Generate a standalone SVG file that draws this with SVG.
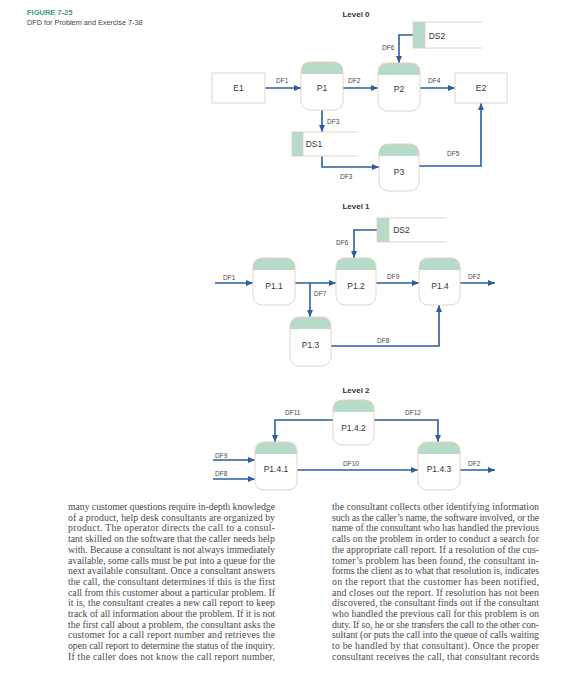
<svg xmlns="http://www.w3.org/2000/svg" width="576" height="700" viewBox="0 0 576 700">
<style>
.lbl{font-family:"Liberation Sans",Arial,sans-serif;font-size:6.5px;fill:#444}
.nm{font-family:"Liberation Sans",Arial,sans-serif;font-size:8.5px;fill:#333;text-anchor:middle}
.lvl{font-family:"Liberation Sans",Arial,sans-serif;font-size:8px;font-weight:bold;fill:#333;text-anchor:middle}
.box{fill:#fff;stroke:#e6d3c0;stroke-width:1}
.hdr{fill:#b7dbc8}
.ds{fill:none;stroke:#e6d3c0;stroke-width:1}
.bar{fill:#b7dbc8;stroke:#e0cdb8;stroke-width:0.8}
.flow{fill:none;stroke:#2b5e9e;stroke-width:1.6}
.body{font-family:"Liberation Serif","Times New Roman",serif;font-size:9.8px;fill:#4a4a4a}
</style>
<defs>
<marker id="ah" markerUnits="userSpaceOnUse" markerWidth="7" markerHeight="6" refX="7" refY="3" orient="auto">
<path d="M0,0 L7,3 L0,6 Z" fill="#2b5e9e"/>
</marker>
</defs>
<rect width="576" height="700" fill="#fff"/>
<g id="header">
<text x="27" y="14.5" font-family="Liberation Sans,Arial,sans-serif" font-size="7.5" font-weight="bold" fill="#3f9b7c">FIGURE 7-25</text>
<text x="27" y="24.5" font-family="Liberation Sans,Arial,sans-serif" font-size="7.3" fill="#444">DFD for Problem and Exercise 7-38</text>
</g>
<text class="lvl" x="356" y="17">Level 0</text>
<text class="lvl" x="356" y="209">Level 1</text>
<text class="lvl" x="356" y="393">Level 2</text>

<g id="connectors">
<path class="flow" marker-end="url(#ah)" d="M413,35 H399 V63"/>
<path class="flow" marker-end="url(#ah)" d="M265,88 H301"/>
<path class="flow" marker-end="url(#ah)" d="M343,88 H378"/>
<path class="flow" marker-end="url(#ah)" d="M420,88 H455"/>
<path class="flow" marker-end="url(#ah)" d="M322,110 V132"/>
<path class="flow" marker-end="url(#ah)" d="M322,156 V167 H379"/>
<path class="flow" marker-end="url(#ah)" d="M419,166 H481 V103"/>

<path class="flow" marker-end="url(#ah)" d="M377,230 H354 V258"/>
<path class="flow" marker-end="url(#ah)" d="M215,283 H253"/>
<path class="flow" marker-end="url(#ah)" d="M295,283 H336"/>
<path class="flow" marker-end="url(#ah)" d="M310,283 V317"/>
<path class="flow" marker-end="url(#ah)" d="M376,283 H419"/>
<path class="flow" marker-end="url(#ah)" d="M460,283 H495"/>
<path class="flow" marker-end="url(#ah)" d="M331,346 H439 V305"/>

<path class="flow" marker-end="url(#ah)" d="M333,420 H275 V442"/>
<path class="flow" marker-end="url(#ah)" d="M374,420 H438 V442"/>
<path class="flow" marker-end="url(#ah)" d="M213,460 H255"/>
<path class="flow" marker-end="url(#ah)" d="M213,479 H255"/>
<path class="flow" marker-end="url(#ah)" d="M297,470 H418"/>
<path class="flow" marker-end="url(#ah)" d="M460,470 H495"/>

<text class="lbl" x="382" y="50">DF6</text>
<text class="lbl" x="276" y="83">DF1</text>
<text class="lbl" x="348" y="83">DF2</text>
<text class="lbl" x="428" y="83">DF4</text>
<text class="lbl" x="327" y="124">DF3</text>
<text class="lbl" x="340" y="179">DF3</text>
<text class="lbl" x="447" y="156">DF5</text>

<text class="lbl" x="336" y="245">DF6</text>
<text class="lbl" x="223" y="280">DF1</text>
<text class="lbl" x="314" y="296">DF7</text>
<text class="lbl" x="387" y="279">DF9</text>
<text class="lbl" x="468" y="279">DF2</text>
<text class="lbl" x="377" y="343">DF8</text>

<text class="lbl" x="285" y="415">DF11</text>
<text class="lbl" x="405" y="415">DF12</text>
<text class="lbl" x="215" y="458">DF9</text>
<text class="lbl" x="215" y="476">DF8</text>
<text class="lbl" x="343" y="466">DF10</text>
<text class="lbl" x="468" y="466">DF2</text>
</g>

<g id="E1"><rect class="box" x="212" y="73" width="53" height="30"/><text class="nm" x="238.5" y="91">E1</text></g>
<g id="E2"><rect class="box" x="455" y="73" width="52" height="30"/><text class="nm" x="481" y="91">E2</text></g>

<g id="P1">
<path class="hdr" d="M301,74 V71 Q301,62 310,62 H334 Q343,62 343,71 V74 Z"/>
<rect class="box" style="fill:none" x="301" y="62" width="42" height="48" rx="9"/>
<text class="nm" x="322" y="91">P1</text>
</g>
<g id="P2">
<path class="hdr" d="M378,75 V72 Q378,63 387,63 H411 Q420,63 420,72 V75 Z"/>
<rect class="box" style="fill:none" x="378" y="63" width="42" height="48" rx="9"/>
<text class="nm" x="399" y="92">P2</text>
</g>
<g id="P3">
<path class="hdr" d="M379,156 V153 Q379,144 388,144 H410 Q419,144 419,153 V156 Z"/>
<rect class="box" style="fill:none" x="379" y="144" width="40" height="47" rx="9"/>
<text class="nm" x="399" y="175">P3</text>
</g>
<g id="DS2-L0">
<path class="ds" d="M425,22 H482 M425,48 H482"/>
<rect class="bar" x="413" y="22" width="12" height="26"/>
<text class="nm" x="437" y="38.5">DS2</text>
</g>
<g id="DS1">
<path class="ds" d="M303,132 H359 M303,156 H359"/>
<rect class="bar" x="292" y="132" width="11" height="24"/>
<text class="nm" x="314" y="147">DS1</text>
</g>

<g id="DS2-L1">
<path class="ds" d="M389,218 H447 M389,242 H447"/>
<rect class="bar" x="377" y="218" width="12" height="24"/>
<text class="nm" x="401.5" y="233">DS2</text>
</g>
<g id="P1.1">
<path class="hdr" d="M253,270 V267 Q253,258 262,258 H286 Q295,258 295,267 V270 Z"/>
<rect class="box" style="fill:none" x="253" y="258" width="42" height="47" rx="9"/>
<text class="nm" x="274" y="289">P1.1</text>
</g>
<g id="P1.2">
<path class="hdr" d="M336,270 V267 Q336,258 345,258 H367 Q376,258 376,267 V270 Z"/>
<rect class="box" style="fill:none" x="336" y="258" width="40" height="47" rx="9"/>
<text class="nm" x="356" y="289">P1.2</text>
</g>
<g id="P1.4">
<path class="hdr" d="M419,270 V267 Q419,258 428,258 H451 Q460,258 460,267 V270 Z"/>
<rect class="box" style="fill:none" x="419" y="258" width="41" height="47" rx="9"/>
<text class="nm" x="440" y="289">P1.4</text>
</g>
<g id="P1.3">
<path class="hdr" d="M290,329 V326 Q290,317 299,317 H322 Q331,317 331,326 V329 Z"/>
<rect class="box" style="fill:none" x="290" y="317" width="41" height="49" rx="9"/>
<text class="nm" x="310.5" y="348">P1.3</text>
</g>

<g id="P1.4.2">
<path class="hdr" d="M333,412 V409 Q333,400 342,400 H365 Q374,400 374,409 V412 Z"/>
<rect class="box" style="fill:none" x="333" y="400" width="41" height="45" rx="9"/>
<text class="nm" x="353.5" y="431">P1.4.2</text>
</g>
<g id="P1.4.1">
<path class="hdr" d="M255,454 V451 Q255,442 264,442 H288 Q297,442 297,451 V454 Z"/>
<rect class="box" style="fill:none" x="255" y="442" width="42" height="48" rx="9"/>
<text class="nm" x="276" y="472">P1.4.1</text>
</g>
<g id="P1.4.3">
<path class="hdr" d="M418,454 V451 Q418,442 427,442 H451 Q460,442 460,451 V454 Z"/>
<rect class="box" style="fill:none" x="418" y="442" width="42" height="48" rx="9"/>
<text class="nm" x="439" y="472">P1.4.3</text>
</g>

<g id="text-left" class="body">
<text x="68" y="510" textLength="207" lengthAdjust="spacing">many customer questions require in-depth knowledge</text>
<text x="68" y="520.7" textLength="207" lengthAdjust="spacing">of a product, help desk consultants are organized by</text>
<text x="68" y="531.4" textLength="207" lengthAdjust="spacing">product. The operator directs the call to a consul-</text>
<text x="68" y="542.1" textLength="207" lengthAdjust="spacing">tant skilled on the software that the caller needs help</text>
<text x="68" y="552.8" textLength="207" lengthAdjust="spacing">with. Because a consultant is not always immediately</text>
<text x="68" y="563.5" textLength="207" lengthAdjust="spacing">available, some calls must be put into a queue for the</text>
<text x="68" y="574.2" textLength="207" lengthAdjust="spacing">next available consultant. Once a consultant answers</text>
<text x="68" y="584.9" textLength="207" lengthAdjust="spacing">the call, the consultant determines if this is the first</text>
<text x="68" y="595.6" textLength="207" lengthAdjust="spacing">call from this customer about a particular problem. If</text>
<text x="68" y="606.3" textLength="207" lengthAdjust="spacing">it is, the consultant creates a new call report to keep</text>
<text x="68" y="617" textLength="207" lengthAdjust="spacing">track of all information about the problem. If it is not</text>
<text x="68" y="627.7" textLength="207" lengthAdjust="spacing">the first call about a problem, the consultant asks the</text>
<text x="68" y="638.4" textLength="207" lengthAdjust="spacing">customer for a call report number and retrieves the</text>
<text x="68" y="649.1" textLength="207" lengthAdjust="spacing">open call report to determine the status of the inquiry.</text>
<text x="68" y="659.8" textLength="207" lengthAdjust="spacing">If the caller does not know the call report number,</text>
</g>
<g id="text-right" class="body">
<text x="332" y="510" textLength="207" lengthAdjust="spacing">the consultant collects other identifying information</text>
<text x="332" y="520.7" textLength="207" lengthAdjust="spacing">such as the caller’s name, the software involved, or the</text>
<text x="332" y="531.4" textLength="207" lengthAdjust="spacing">name of the consultant who has handled the previous</text>
<text x="332" y="542.1" textLength="207" lengthAdjust="spacing">calls on the problem in order to conduct a search for</text>
<text x="332" y="552.8" textLength="207" lengthAdjust="spacing">the appropriate call report. If a resolution of the cus-</text>
<text x="332" y="563.5" textLength="207" lengthAdjust="spacing">tomer’s problem has been found, the consultant in-</text>
<text x="332" y="574.2" textLength="207" lengthAdjust="spacing">forms the client as to what that resolution is, indicates</text>
<text x="332" y="584.9" textLength="207" lengthAdjust="spacing">on the report that the customer has been notified,</text>
<text x="332" y="595.6" textLength="207" lengthAdjust="spacing">and closes out the report. If resolution has not been</text>
<text x="332" y="606.3" textLength="207" lengthAdjust="spacing">discovered, the consultant finds out if the consultant</text>
<text x="332" y="617" textLength="207" lengthAdjust="spacing">who handled the previous call for this problem is on</text>
<text x="332" y="627.7" textLength="207" lengthAdjust="spacing">duty. If so, he or she transfers the call to the other con-</text>
<text x="332" y="638.4" textLength="207" lengthAdjust="spacing">sultant (or puts the call into the queue of calls waiting</text>
<text x="332" y="649.1" textLength="207" lengthAdjust="spacing">to be handled by that consultant). Once the proper</text>
<text x="332" y="659.8" textLength="207" lengthAdjust="spacing">consultant receives the call, that consultant records</text>
</g>
</svg>
